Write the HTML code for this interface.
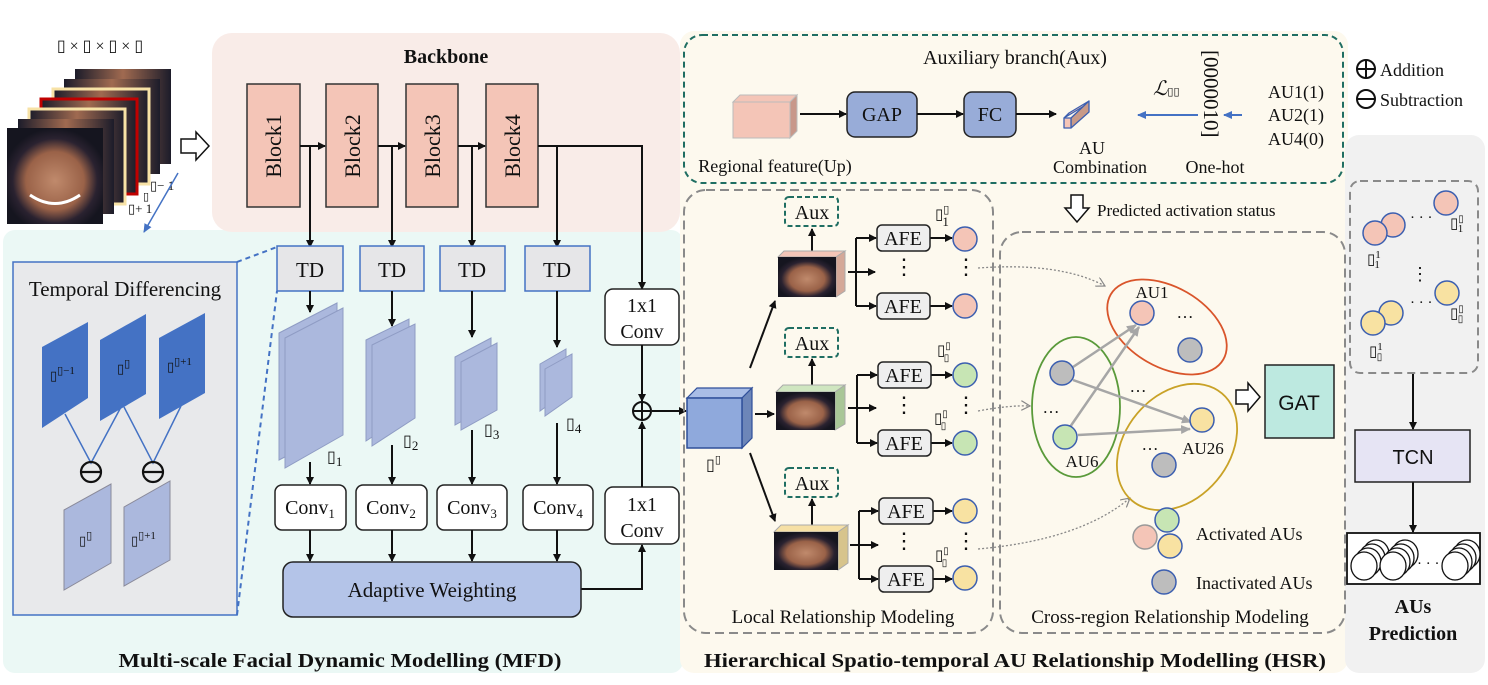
<!DOCTYPE html>
<html><head><meta charset="utf-8">
<style>
html,body{margin:0;padding:0;background:#fff;}
svg{display:block;}
text{font-family:"Liberation Serif","DejaVu Serif",serif;fill:#111;}
.s{font-family:"Liberation Sans","DejaVu Sans",sans-serif;}
</style></head><body>
<svg width="1488" height="685" viewBox="0 0 1488 685" xmlns="http://www.w3.org/2000/svg">
<defs>
<marker id="a" markerWidth="8" markerHeight="8" refX="7" refY="4" orient="auto" markerUnits="userSpaceOnUse"><path d="M0,0 L8,4 L0,8 z" fill="#111"/></marker>
<marker id="ab" markerWidth="9" markerHeight="8" refX="8" refY="4" orient="auto" markerUnits="userSpaceOnUse"><path d="M0,0 L9,4 L0,8 z" fill="#4472c4"/></marker>
<marker id="ag" markerWidth="10" markerHeight="9" refX="9" refY="4.5" orient="auto" markerUnits="userSpaceOnUse"><path d="M0,0 L10,4.5 L0,9 z" fill="#a6a6a6"/></marker>
<marker id="ao" markerWidth="10" markerHeight="10" refX="9" refY="5" orient="auto" markerUnits="userSpaceOnUse"><path d="M0,0 L9,5 L0,10" fill="none" stroke="#888" stroke-width="1.2"/></marker>
<radialGradient id="face" cx="50%" cy="55%" r="55%"><stop offset="0" stop-color="#c08a6c"/><stop offset="0.55" stop-color="#9a6248"/><stop offset="0.8" stop-color="#2a2230"/><stop offset="1" stop-color="#15151f"/></radialGradient>
<linearGradient id="bk" x1="0" y1="0" x2="1" y2="0"><stop offset="0" stop-color="#1c1c2a"/><stop offset="0.5" stop-color="#a06a50"/><stop offset="1" stop-color="#1c1c2a"/></linearGradient>
</defs>

<rect x="3" y="230" width="680" height="443" rx="12" fill="#ebf8f5"/>
<rect x="212" y="33" width="468" height="199" rx="20" fill="#f9ece8"/>
<rect x="680" y="31" width="668" height="642" rx="14" fill="#fdf9ee"/>
<rect x="1345" y="135" width="140" height="538" rx="14" fill="#f1f1f1"/>

<text x="100" y="51" font-size="16" text-anchor="middle">▯ × ▯ × ▯ × ▯</text>
<g>
<rect x="75" y="69" width="96" height="95" fill="url(#bk)"/>
<rect x="64" y="79" width="96" height="95" fill="url(#bk)"/>
<rect x="53" y="89" width="96" height="95" fill="url(#bk)" stroke="#f7e2a6" stroke-width="3"/>
<rect x="41" y="99" width="96" height="95" fill="url(#bk)" stroke="#c00000" stroke-width="3"/>
<rect x="29" y="109" width="96" height="95" fill="url(#bk)" stroke="#f7e2a6" stroke-width="3"/>
<rect x="18" y="119" width="96" height="95" fill="url(#bk)"/>
<rect x="7" y="128" width="96" height="96" fill="url(#face)"/>
<path d="M30,195 Q55,212 80,195" stroke="#fff" stroke-width="3" fill="none"/>
</g>
<text x="150" y="190" font-size="13">▯− 1</text>
<text x="143" y="200" font-size="11">▯</text>
<text x="128" y="213" font-size="13">▯+ 1</text>
<path d="M181,139 L196,139 L196,132 L209,146 L196,160 L196,153 L181,153 z" fill="#fff" stroke="#111" stroke-width="1.5"/>
<line x1="178" y1="173" x2="144" y2="232" stroke="#4472c4" stroke-width="1.5" marker-end="url(#ab)"/>

<text x="446" y="63" font-size="20" font-weight="bold" text-anchor="middle">Backbone</text>
<g fill="#f4c5b7" stroke="#333" stroke-width="1.5">
<rect x="247" y="84" width="53" height="123"/><rect x="326" y="84" width="52" height="123"/>
<rect x="406" y="84" width="52" height="123"/><rect x="486" y="84" width="52" height="123"/>
</g>
<g font-size="22" text-anchor="middle">
<text transform="translate(281,146) rotate(-90)">Block1</text>
<text transform="translate(360,146) rotate(-90)">Block2</text>
<text transform="translate(440,146) rotate(-90)">Block3</text>
<text transform="translate(520,146) rotate(-90)">Block4</text>
</g>
<g stroke="#111" stroke-width="2" fill="none">
<line x1="300" y1="146" x2="325" y2="146" marker-end="url(#a)"/>
<line x1="378" y1="146" x2="405" y2="146" marker-end="url(#a)"/>
<line x1="458" y1="146" x2="485" y2="146" marker-end="url(#a)"/>
<polyline points="538,146 642,146 642,289" marker-end="url(#a)"/>
<line x1="310" y1="146" x2="310" y2="247" marker-end="url(#a)"/>
<line x1="392" y1="146" x2="392" y2="247" marker-end="url(#a)"/>
<line x1="472" y1="146" x2="472" y2="247" marker-end="url(#a)"/>
<line x1="557" y1="146" x2="557" y2="247" marker-end="url(#a)"/>
</g>

<g fill="#e6e6e8" stroke="#4472c4" stroke-width="1.5">
<rect x="277" y="246" width="66" height="45"/><rect x="360" y="246" width="64" height="45"/>
<rect x="440" y="246" width="65" height="45"/><rect x="525" y="246" width="65" height="45"/>
</g>
<g font-size="21" text-anchor="middle">
<text x="310" y="277">TD</text><text x="392" y="277">TD</text><text x="472" y="277">TD</text><text x="557" y="277">TD</text>
</g>
<g stroke="#111" stroke-width="2">
<line x1="310" y1="291" x2="310" y2="312" marker-end="url(#a)"/>
<line x1="392" y1="291" x2="392" y2="326" marker-end="url(#a)"/>
<line x1="472" y1="291" x2="472" y2="337" marker-end="url(#a)"/>
<line x1="557" y1="291" x2="557" y2="347" marker-end="url(#a)"/>
<line x1="310" y1="462" x2="310" y2="484" marker-end="url(#a)"/>
<line x1="392" y1="445" x2="392" y2="484" marker-end="url(#a)"/>
<line x1="472" y1="430" x2="472" y2="484" marker-end="url(#a)"/>
<line x1="557" y1="423" x2="557" y2="484" marker-end="url(#a)"/>
</g>
<g fill="#abb8dd" stroke="#8f9cc4" stroke-width="1">
<polygon points="279,333 337,303 337,430 279,460"/><polygon points="285,338 343,308 343,435 285,468"/>
<polygon points="366,340 409,319 409,413 366,441"/><polygon points="372,345 415,324 415,418 372,446"/>
<polygon points="455,357 491,338 491,405 455,425"/><polygon points="461,362 497,343 497,410 461,430"/>
<polygon points="540,364 566,349 566,392 540,411"/><polygon points="545,369 572,354 572,397 545,416"/>
</g>
<g font-size="16">
<text x="327" y="462">▯<tspan font-size="13" dy="4">1</tspan></text>
<text x="403" y="446">▯<tspan font-size="13" dy="4">2</tspan></text>
<text x="484" y="435">▯<tspan font-size="13" dy="4">3</tspan></text>
<text x="566" y="429">▯<tspan font-size="13" dy="4">4</tspan></text>
</g>
<g fill="#fff" stroke="#222" stroke-width="1.5">
<rect x="275" y="485" width="71" height="45" rx="7"/><rect x="356" y="485" width="71" height="45" rx="7"/>
<rect x="437" y="485" width="70" height="45" rx="7"/><rect x="523" y="485" width="70" height="45" rx="7"/>
<rect x="605" y="289" width="74" height="56" rx="8"/><rect x="605" y="487" width="74" height="57" rx="8"/>
</g>
<g font-size="20" text-anchor="middle">
<text x="310" y="514">Conv<tspan font-size="13" dy="4">1</tspan></text>
<text x="391" y="514">Conv<tspan font-size="13" dy="4">2</tspan></text>
<text x="472" y="514">Conv<tspan font-size="13" dy="4">3</tspan></text>
<text x="558" y="514">Conv<tspan font-size="13" dy="4">4</tspan></text>
<text x="642" y="312">1x1</text><text x="642" y="338">Conv</text>
<text x="642" y="511">1x1</text><text x="642" y="537">Conv</text>
</g>
<g stroke="#111" stroke-width="2">
<line x1="310" y1="530" x2="310" y2="561" marker-end="url(#a)"/>
<line x1="392" y1="530" x2="392" y2="561" marker-end="url(#a)"/>
<line x1="472" y1="530" x2="472" y2="561" marker-end="url(#a)"/>
<line x1="557" y1="530" x2="557" y2="561" marker-end="url(#a)"/>
<polyline points="581,589 642,589 642,545" fill="none" marker-end="url(#a)"/>
<line x1="642" y1="345" x2="642" y2="401" marker-end="url(#a)"/>
<line x1="642" y1="487" x2="642" y2="422" marker-end="url(#a)"/>
<line x1="652" y1="411" x2="686" y2="411" marker-end="url(#a)"/>
</g>
<circle cx="642" cy="411" r="9" fill="none" stroke="#111" stroke-width="2"/>
<line x1="633" y1="411" x2="651" y2="411" stroke="#111" stroke-width="2"/><line x1="642" y1="402" x2="642" y2="420" stroke="#111" stroke-width="2"/>
<rect x="283" y="562" width="298" height="55" rx="10" fill="#b4c4e8" stroke="#222" stroke-width="1.5"/>
<text x="432" y="597" font-size="21" text-anchor="middle">Adaptive Weighting</text>

<rect x="13" y="262" width="224" height="353" fill="#e8e9eb" stroke="#4472c4" stroke-width="1.5"/>
<line x1="237" y1="262" x2="277" y2="247" stroke="#4472c4" stroke-width="2" stroke-dasharray="5,4"/>
<line x1="237" y1="615" x2="277" y2="291" stroke="#4472c4" stroke-width="2" stroke-dasharray="5,4"/>
<text x="125" y="296" font-size="21" text-anchor="middle">Temporal Differencing</text>
<g fill="#4472c4">
<polygon points="42,347 88,322 88,398 42,428"/><polygon points="100,340 146,314 146,394 100,421"/><polygon points="159,338 205,313 205,393 159,419"/>
</g>
<g stroke="#4472c4" stroke-width="1.5" fill="none">
<polyline points="65,414 91,463 121,407"/><polyline points="124,407 153,463 181,406"/>
</g>
<g font-size="13">
<text x="50" y="380" fill="#fff">▯<tspan dy="-6" font-size="11">▯−1</tspan></text>
<text x="117" y="373" fill="#fff">▯<tspan dy="-6" font-size="11">▯</tspan></text>
<text x="167" y="371" fill="#fff">▯<tspan dy="-6" font-size="11">▯+1</tspan></text>
</g>
<g fill="none" stroke="#111" stroke-width="2.2">
<circle cx="91" cy="472" r="10"/><circle cx="153" cy="472" r="10"/>
<line x1="81" y1="472" x2="101" y2="472"/><line x1="143" y1="472" x2="163" y2="472"/>
</g>
<g fill="#abb8dd" stroke="#8a8a9a" stroke-width="1">
<polygon points="64,510 111,484 111,563 64,590"/><polygon points="124,507 170,481 170,560 124,586"/>
</g>
<text x="79" y="545" font-size="13" fill="#fff">▯<tspan dy="-6" font-size="11">▯</tspan></text>
<text x="131" y="545" font-size="13" fill="#fff">▯<tspan dy="-6" font-size="11">▯+1</tspan></text>
<text x="340" y="667" font-size="20" font-weight="bold" text-anchor="middle" textLength="443" lengthAdjust="spacingAndGlyphs">Multi-scale Facial Dynamic Modelling (MFD)</text>

<rect x="684" y="35" width="659" height="148" rx="18" fill="none" stroke="#1f6e62" stroke-width="2" stroke-dasharray="6,4"/>
<text x="1015" y="64" font-size="20" text-anchor="middle">Auxiliary branch(Aux)</text>
<polygon points="733,102 740,95 797,95 790,102" fill="#f4c5b7" stroke="#bbb"/>
<polygon points="790,102 797,95 797,131 790,138" fill="#c8988a" stroke="#bbb"/>
<rect x="733" y="102" width="57" height="36" fill="#f4c5b7" stroke="#bbb"/>
<text x="775" y="172" font-size="18" text-anchor="middle">Regional feature(Up)</text>
<rect x="847" y="92" width="70" height="45" rx="8" fill="#98acd8" stroke="#222" stroke-width="1.5"/>
<rect x="964" y="92" width="52" height="45" rx="8" fill="#98acd8" stroke="#222" stroke-width="1.5"/>
<text x="882" y="121" font-size="20" text-anchor="middle">GAP</text>
<text x="990" y="121" font-size="20" text-anchor="middle">FC</text>
<g stroke="#111" stroke-width="2">
<line x1="800" y1="114" x2="846" y2="114" marker-end="url(#a)"/>
<line x1="917" y1="114" x2="963" y2="114" marker-end="url(#a)"/>
<line x1="1016" y1="114" x2="1056" y2="114" marker-end="url(#a)"/>
</g>
<g stroke="#3c5fb0" stroke-width="1.3" stroke-linejoin="round">
<polygon points="1064,118 1069,113 1089,101 1084,106" fill="#f4c5b7"/>
<polygon points="1071,118 1071,128 1089,112 1089,101" fill="#c89a88"/>
<rect x="1064" y="118" width="7" height="10" fill="#f4c5b7"/>
</g>
<text x="1092" y="154" font-size="18" text-anchor="middle">AU</text>
<text x="1100" y="173" font-size="18" text-anchor="middle">Combination</text>
<text x="1153" y="95" font-size="20" font-style="italic">ℒ<tspan font-size="11">▯▯</tspan></text>
<line x1="1198" y1="115" x2="1138" y2="115" stroke="#4472c4" stroke-width="2" marker-end="url(#ab)"/>
<line x1="1242" y1="115" x2="1224" y2="115" stroke="#4472c4" stroke-width="2" marker-end="url(#ab)"/>
<text transform="translate(1204,50) rotate(90)" font-size="21">[0000010]</text>
<text x="1215" y="173" font-size="18" text-anchor="middle">One-hot</text>
<g font-size="18"><text x="1268" y="98">AU1(1)</text><text x="1268" y="121">AU2(1)</text><text x="1268" y="145">AU4(0)</text></g>
<g fill="none" stroke="#111" stroke-width="2">
<circle cx="1366" cy="69" r="9"/><line x1="1357" y1="69" x2="1375" y2="69"/><line x1="1366" y1="60" x2="1366" y2="78"/>
<circle cx="1366" cy="99" r="9"/><line x1="1357" y1="99" x2="1375" y2="99"/>
</g>
<text x="1380" y="76" font-size="18">Addition</text>
<text x="1380" y="106" font-size="18">Subtraction</text>

<rect x="684" y="190" width="309" height="443" rx="22" fill="none" stroke="#8a8a8a" stroke-width="2" stroke-dasharray="9,5"/>
<rect x="1000" y="232" width="345" height="401" rx="22" fill="none" stroke="#8a8a8a" stroke-width="2" stroke-dasharray="9,5"/>
<path d="M1071,195 L1083,195 L1083,208 L1089,208 L1077,222 L1065,208 L1071,208 z" fill="#fff" stroke="#111" stroke-width="1.5"/>
<text x="1097" y="216" font-size="17">Predicted activation status</text>

<polygon points="687,398 697,388 752,388 742,398" fill="#a9bde6" stroke="#2f4f9a" stroke-width="1.2"/>
<polygon points="742,398 752,388 752,438 742,448" fill="#6d86b8" stroke="#2f4f9a" stroke-width="1.2"/>
<rect x="687" y="398" width="55" height="50" fill="#8fa9dc" stroke="#2f4f9a" stroke-width="1.5"/>
<text x="706" y="470" font-size="16">▯<tspan dy="-7" font-size="11">▯</tspan></text>
<g stroke="#111" stroke-width="2">
<line x1="750" y1="368" x2="775" y2="301" marker-end="url(#a)"/>
<line x1="755" y1="414" x2="774" y2="414" marker-end="url(#a)"/>
<line x1="750" y1="453" x2="775" y2="521" marker-end="url(#a)"/>
<line x1="812" y1="257" x2="812" y2="229" marker-end="url(#a)"/>
<line x1="812" y1="390" x2="812" y2="359" marker-end="url(#a)"/>
<line x1="812" y1="525" x2="812" y2="499" marker-end="url(#a)"/>
</g>
<polygon points="778,257 784,251 845,251 836,257" fill="#f4c5b7" stroke="#aaa"/>
<polygon points="836,257 845,251 845,291 836,297" fill="#d4a898" stroke="#aaa"/>
<rect x="778" y="257" width="58" height="40" fill="url(#face)"/>
<polygon points="776,392 783,385 845,385 835,392" fill="#cfe6c0" stroke="#aaa"/>
<polygon points="835,392 845,385 845,424 835,430" fill="#a9c697" stroke="#aaa"/>
<rect x="776" y="392" width="59" height="38" fill="url(#face)"/>
<polygon points="774,532 781,525 848,525 838,532" fill="#f6e0a5" stroke="#aaa"/>
<polygon points="838,532 848,525 848,563 838,570" fill="#d7c48c" stroke="#aaa"/>
<rect x="774" y="532" width="64" height="38" fill="url(#face)"/>
<g fill="none" stroke="#1f6e62" stroke-width="2" stroke-dasharray="5,3">
<rect x="785" y="197" width="53" height="29" rx="4"/><rect x="785" y="328" width="53" height="29" rx="4"/><rect x="785" y="468" width="53" height="29" rx="4"/>
</g>
<g font-size="20" text-anchor="middle"><text x="812" y="219">Aux</text><text x="812" y="350">Aux</text><text x="812" y="490">Aux</text></g>
<g stroke="#111" stroke-width="2" fill="none">
<line x1="848" y1="272" x2="875" y2="272" marker-end="url(#a)"/><polyline points="856,238 856,306"/>
<line x1="856" y1="238" x2="876" y2="238" marker-end="url(#a)"/><line x1="856" y1="306" x2="876" y2="306" marker-end="url(#a)"/>
<line x1="848" y1="408" x2="876" y2="408" marker-end="url(#a)"/><polyline points="857,375 857,443"/>
<line x1="857" y1="375" x2="877" y2="375" marker-end="url(#a)"/><line x1="857" y1="443" x2="877" y2="443" marker-end="url(#a)"/>
<line x1="850" y1="545" x2="878" y2="545" marker-end="url(#a)"/><polyline points="859,511 859,579"/>
<line x1="859" y1="511" x2="878" y2="511" marker-end="url(#a)"/><line x1="859" y1="579" x2="878" y2="579" marker-end="url(#a)"/>
<line x1="930" y1="238" x2="952" y2="238" marker-end="url(#a)"/><line x1="930" y1="306" x2="952" y2="306" marker-end="url(#a)"/>
<line x1="931" y1="375" x2="952" y2="375" marker-end="url(#a)"/><line x1="931" y1="443" x2="952" y2="443" marker-end="url(#a)"/>
<line x1="933" y1="511" x2="952" y2="511" marker-end="url(#a)"/><line x1="933" y1="579" x2="952" y2="579" marker-end="url(#a)"/>
</g>
<g fill="#eeeeee" stroke="#222" stroke-width="1.5">
<rect x="877" y="225" width="53" height="26" rx="5"/><rect x="877" y="293" width="53" height="26" rx="5"/>
<rect x="878" y="362" width="53" height="26" rx="5"/><rect x="878" y="430" width="53" height="26" rx="5"/>
<rect x="879" y="498" width="54" height="26" rx="5"/><rect x="879" y="566" width="54" height="26" rx="5"/>
</g>
<g font-size="20" text-anchor="middle">
<text x="903" y="245">AFE</text><text x="903" y="313">AFE</text><text x="904" y="382">AFE</text>
<text x="904" y="450">AFE</text><text x="906" y="518">AFE</text><text x="906" y="586">AFE</text>
</g>
<g stroke="#3c5fb0" stroke-width="1.5">
<circle cx="965" cy="239" r="12" fill="#f4c5b7"/><circle cx="965" cy="306" r="12" fill="#f4c5b7"/>
<circle cx="965" cy="375" r="12" fill="#c7e5b4"/><circle cx="965" cy="443" r="12" fill="#c7e5b4"/>
<circle cx="965" cy="511" r="12" fill="#f8e2a2"/><circle cx="965" cy="578" r="12" fill="#f8e2a2"/>
</g>
<g font-size="22" text-anchor="middle">
<text x="904" y="274">⋮</text><text x="966" y="274">⋮</text>
<text x="904" y="412">⋮</text><text x="966" y="412">⋮</text>
<text x="904" y="548">⋮</text><text x="966" y="548">⋮</text>
</g>
<g font-size="15">
<text x="935" y="219">▯<tspan font-size="11" dy="-6">▯</tspan><tspan font-size="13" dx="-7" dy="13">1</tspan></text>
<text x="937" y="355">▯<tspan font-size="10" dy="-6">▯</tspan><tspan font-size="10" dx="-7" dy="12">▯</tspan></text>
<text x="934" y="423">▯<tspan font-size="10" dy="-6">▯</tspan><tspan font-size="10" dx="-7" dy="12">▯</tspan></text>
<text x="935" y="560">▯<tspan font-size="10" dy="-6">▯</tspan><tspan font-size="10" dx="-7" dy="12">▯</tspan></text>
</g>
<text x="843" y="623" font-size="19" text-anchor="middle">Local Relationship Modeling</text>
<g fill="none" stroke="#888" stroke-width="1.3" stroke-dasharray="2,2" marker-end="url(#ao)">
<path d="M978,268 Q1060,262 1105,286"/>
<path d="M978,411 Q1010,405 1030,406"/>
<path d="M978,549 Q1080,540 1130,498"/>
</g>
<g fill="none" stroke-width="1.8">
<ellipse cx="1167" cy="327" rx="65" ry="40" transform="rotate(30 1167 327)" stroke="#d9552b"/>
<ellipse cx="1076" cy="407" rx="44" ry="70" stroke="#5a9a3a"/>
<ellipse cx="1177" cy="447" rx="52" ry="70" transform="rotate(40 1177 447)" stroke="#c9a227"/>
</g>
<g stroke="#a6a6a6" stroke-width="2.5" fill="none">
<line x1="1073" y1="367" x2="1136" y2="325" marker-end="url(#ag)"/>
<line x1="1070" y1="427" x2="1139" y2="327" marker-end="url(#ag)"/>
<line x1="1073" y1="380" x2="1191" y2="422" marker-end="url(#ag)"/>
<line x1="1078" y1="435" x2="1190" y2="429" marker-end="url(#ag)"/>
</g>
<g stroke="#3c5fb0" stroke-width="1.5">
<circle cx="1142" cy="313" r="12" fill="#f4c5b7"/><circle cx="1190" cy="350" r="12" fill="#bdbdbd"/>
<circle cx="1062" cy="373" r="12" fill="#bdbdbd"/><circle cx="1065" cy="437" r="12" fill="#c7e5b4"/>
<circle cx="1202" cy="420" r="12" fill="#f8e2a2"/><circle cx="1164" cy="465" r="12" fill="#bdbdbd"/>
</g>
<g font-size="17" text-anchor="middle">
<text x="1152" y="298">AU1</text><text x="1082" y="467">AU6</text><text x="1203" y="454">AU26</text>
<text x="1185" y="318">…</text><text x="1138" y="392">…</text><text x="1051" y="413">…</text><text x="1150" y="450">…</text>
</g>
<path d="M1236,390 L1248,390 L1248,383 L1260,397 L1248,411 L1248,404 L1236,404 z" fill="#fff" stroke="#111" stroke-width="1.5"/>
<rect x="1265" y="365" width="69" height="73" fill="#bde9e0" stroke="#222" stroke-width="1.5"/>
<text x="1299" y="410" font-size="21" text-anchor="middle" class="s">GAT</text>
<g stroke-width="1.5">
<circle cx="1145" cy="537" r="12" fill="#f4c5b7" stroke="#999"/>
<circle cx="1167" cy="520" r="12" fill="#c7e5b4" stroke="#3c5fb0"/>
<circle cx="1170" cy="546" r="12" fill="#f8e2a2" stroke="#3c5fb0"/>
<circle cx="1164" cy="582" r="12" fill="#bdbdbd" stroke="#3c5fb0"/>
</g>
<text x="1196" y="540" font-size="18">Activated AUs</text>
<text x="1196" y="589" font-size="18">Inactivated AUs</text>
<text x="1170" y="623" font-size="19" text-anchor="middle">Cross-region Relationship Modeling</text>
<text x="1015" y="667" font-size="20" font-weight="bold" text-anchor="middle" textLength="622" lengthAdjust="spacingAndGlyphs">Hierarchical Spatio-temporal AU Relationship Modelling (HSR)</text>

<rect x="1350" y="181" width="128" height="192" rx="10" fill="none" stroke="#8a8a8a" stroke-width="2" stroke-dasharray="8,5"/>
<g stroke="#3c5fb0" stroke-width="1.5">
<circle cx="1393" cy="225" r="12" fill="#f4c5b7"/><circle cx="1375" cy="233" r="12" fill="#f4c5b7"/>
<circle cx="1446" cy="203" r="12" fill="#f4c5b7"/>
<circle cx="1391" cy="313" r="12" fill="#f8e2a2"/><circle cx="1373" cy="323" r="12" fill="#f8e2a2"/>
<circle cx="1447" cy="293" r="12" fill="#f8e2a2"/>
</g>
<g font-size="15">
<text x="1410" y="222">· · ·</text><text x="1410" y="307">· · ·</text>
<text x="1411" y="280" font-size="18">⋮</text>
<text x="1367" y="264">▯<tspan font-size="11" dy="-6">1</tspan><tspan font-size="11" dx="-6" dy="10">1</tspan></text>
<text x="1450" y="228">▯<tspan font-size="10" dy="-6">▯</tspan><tspan font-size="11" dx="-6" dy="10">1</tspan></text>
<text x="1369" y="356">▯<tspan font-size="11" dy="-6">1</tspan><tspan font-size="10" dx="-6" dy="10">▯</tspan></text>
<text x="1450" y="318">▯<tspan font-size="10" dy="-6">▯</tspan><tspan font-size="10" dx="-6" dy="10">▯</tspan></text>
</g>
<g stroke="#111" stroke-width="2">
<line x1="1413" y1="374" x2="1413" y2="429" marker-end="url(#a)"/>
<line x1="1413" y1="482" x2="1413" y2="532" marker-end="url(#a)"/>
</g>
<rect x="1355" y="430" width="115" height="52" fill="#e6e4f4" stroke="#222" stroke-width="1.5"/>
<text x="1413" y="464" font-size="20" text-anchor="middle" class="s">TCN</text>
<rect x="1347" y="533" width="133" height="51" fill="#fff" stroke="#111" stroke-width="1.8"/>
<g fill="#fff" stroke="#111" stroke-width="1.3">
<ellipse cx="1376" cy="554" rx="13" ry="14"/><ellipse cx="1372" cy="558" rx="13" ry="14"/><ellipse cx="1368" cy="562" rx="13" ry="14"/><ellipse cx="1364" cy="566" rx="13" ry="14"/>
<ellipse cx="1405" cy="554" rx="13" ry="14"/><ellipse cx="1401" cy="558" rx="13" ry="14"/><ellipse cx="1397" cy="562" rx="13" ry="14"/><ellipse cx="1393" cy="566" rx="13" ry="14"/>
<ellipse cx="1467" cy="554" rx="13" ry="14"/><ellipse cx="1463" cy="558" rx="13" ry="14"/><ellipse cx="1459" cy="562" rx="13" ry="14"/><ellipse cx="1455" cy="566" rx="13" ry="14"/>
</g>
<text x="1417" y="568" font-size="15">· · ·</text>
<text x="1413" y="613" font-size="20" font-weight="bold" text-anchor="middle">AUs</text>
<text x="1413" y="640" font-size="20" font-weight="bold" text-anchor="middle">Prediction</text>
</svg>
</body></html>
